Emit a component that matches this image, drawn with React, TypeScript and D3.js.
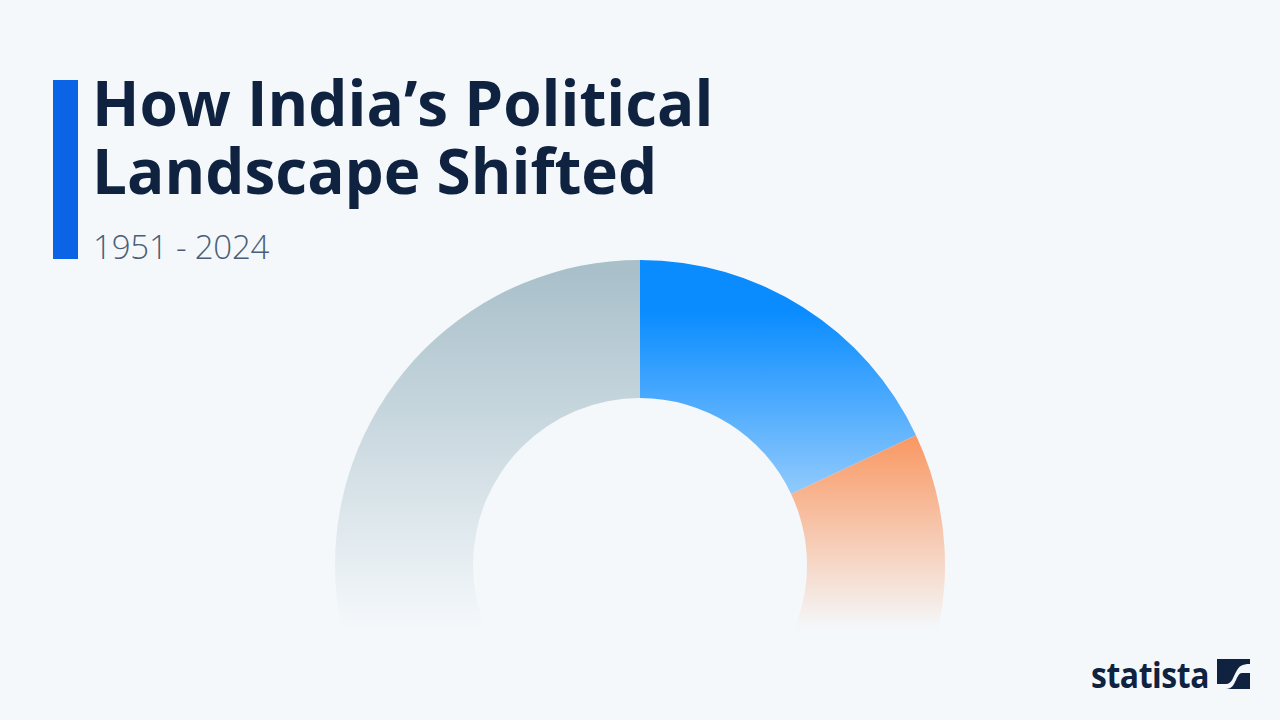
import React from "react";
import * as d3 from "d3";

const categories = ["Blue party", "Orange party", "Other"];
const values = [18, 32, 50];
const colors = ["#0a8cff", "#f99a66", "#a9c0ca"];
const title = ["How India’s Political", "Landscape Shifted"];
const subtitle = "1951 - 2024";

const W = 1280;
const H = 720;
const cx = 640;
const cy = 565;
const outerR = 305;
const innerR = 167;
const fadeEnd = 632;

export default function App() {
  const pie = d3.pie<number>().sort(null).startAngle(0).endAngle(2 * Math.PI);
  const arcs = pie(values);
  const arc = d3.arc<d3.PieArcDatum<number>>().innerRadius(innerR).outerRadius(outerR);

  const topY = (a: d3.PieArcDatum<number>) => {
    const s = a.startAngle, e = a.endAngle;
    if (s <= 0 || e >= 2 * Math.PI) return cy - outerR;
    const ys = [s, e].flatMap((t) => [cy - outerR * Math.cos(t), cy - innerR * Math.cos(t)]);
    return Math.min(...ys);
  };

  return (
    <svg width={W} height={H} style={{ position: "fixed", left: 0, top: 0, display: "block" }}>
      <defs>
        {arcs.map((a, i) => {
          const y1 = topY(a) - cy;
          const start = i === 0 ? 0.14 : 0.03;
          return (
            <linearGradient key={i} id={`g${i}`} gradientUnits="userSpaceOnUse" x1={0} x2={0} y1={y1} y2={fadeEnd - cy}>
              <stop offset={0} stopColor={colors[i]} stopOpacity={1} />
              <stop offset={start} stopColor={colors[i]} stopOpacity={1} />
              <stop offset={0.96} stopColor={colors[i]} stopOpacity={0.03} />
              <stop offset={1} stopColor={colors[i]} stopOpacity={0} />
            </linearGradient>
          );
        })}
      </defs>
      <rect width={W} height={H} fill="#f4f8fb" />
      <g transform={`translate(${cx},${cy})`}>
        {arcs.map((a, i) => (
          <path key={categories[i]} d={arc(a) || ""} fill={`url(#g${i})`} />
        ))}
      </g>
      <rect x={53} y={80} width={25} height={179} fill="#0b63e5" />
      <g fontFamily="'Open Sans', sans-serif" fill="#0f2341">
        {title.map((t, i) => (
          <text key={i} x={92} y={126 + i * 68} fontSize={62} fontWeight={700}>
            {t}
          </text>
        ))}
        <text x={93} y={259} fontSize={33} fontWeight={300} fill="#4a5e78" letterSpacing={-0.2}>
          {subtitle}
        </text>
      </g>
      <g>
        <text x={1091} y={688} fontFamily="'Open Sans', sans-serif" fontWeight={700} fontSize={36} fill="#0f2341" letterSpacing={-0.5} textLength={118} lengthAdjust="spacingAndGlyphs">
          statista
        </text>
        <rect x={1217} y={659} width={33} height={30} fill="#0f2341" />
        <path d="M1217,684 L1226,684 C1232,684 1233,677 1236,672 C1239,666 1242,664 1250,664 L1250,673 L1242,673 C1238,673 1237,679 1234,684 C1231,689 1228,689 1222,689 L1217,689 Z" fill="#f4f8fb" />
      </g>
    </svg>
  );
}
